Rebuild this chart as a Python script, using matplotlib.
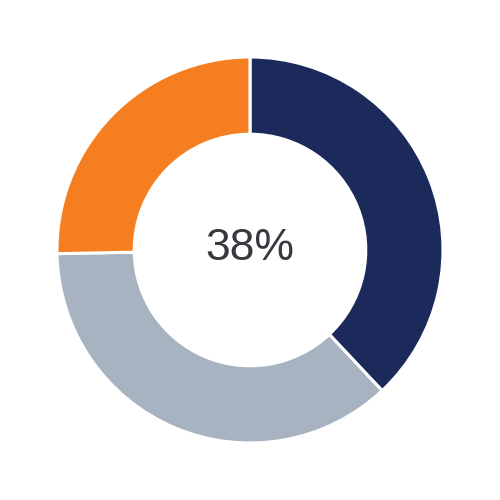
import matplotlib
matplotlib.use("Agg")
import matplotlib.pyplot as plt

labels = ["Navy", "Gray", "Orange"]
values = [38, 36.7, 25.3]
colors = ["#1b2a5a", "#a8b3c1", "#f47e20"]
center_label = "38%"

fig = plt.figure(figsize=(5, 5), dpi=100)
ax = fig.add_axes([0, 0, 1, 1])

ax.pie(values, colors=colors, startangle=90, counterclock=False, radius=1.0,
       wedgeprops=dict(width=0.4, edgecolor="white", linewidth=2.2))

ax.text(0, 0.01, center_label, ha="center", va="center", fontsize=32,
        color="#363a40", family="Liberation Sans")

lim = 250 / 193
ax.set_xlim(-lim, lim)
ax.set_ylim(-lim, lim)
ax.set_aspect("equal")
ax.axis("off")

fig.savefig("out.png", dpi=100, facecolor="white")
